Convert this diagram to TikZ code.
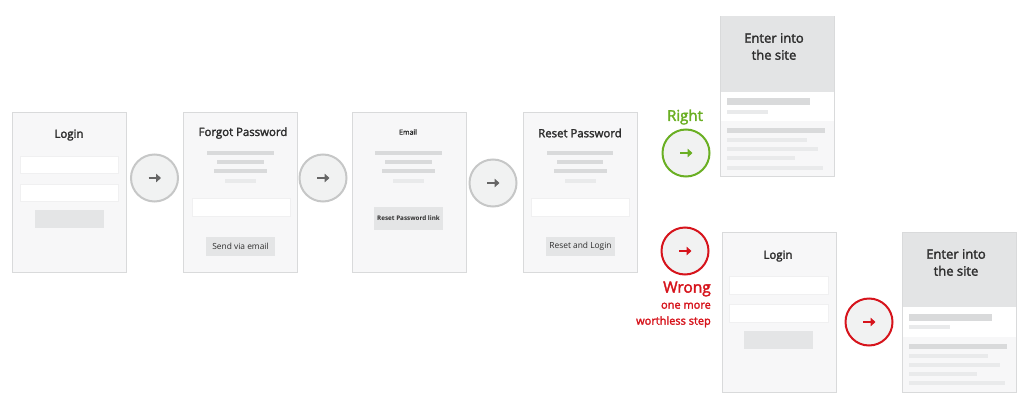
\documentclass[tikz,border=0pt]{standalone}
\usepackage{fontspec}
\setmainfont{Open Sans}
\newfontfamily\semi{Open Sans}[FakeBold=2.2]
\usetikzlibrary{arrows.meta}
\definecolor{panelfill}{HTML}{F7F7F8}
\definecolor{panelline}{HTML}{D9DADB}
\definecolor{btn}{HTML}{E4E5E6}
\definecolor{hdr}{HTML}{E3E4E5}
\definecolor{bar}{HTML}{D9DADB}
\definecolor{barlight}{HTML}{E9EAEB}
\definecolor{txt}{HTML}{2E2E2E}
\definecolor{circfill}{HTML}{F1F2F2}
\definecolor{circgray}{HTML}{C6C7C7}
\definecolor{arrgray}{HTML}{666666}
\definecolor{okgreen}{HTML}{6AAF23}
\definecolor{badred}{HTML}{D6141C}
\tikzset{
  panel/.style={draw=panelline, fill=panelfill, line width=1pt, rectangle, anchor=north west, inner sep=0pt, minimum width=114pt, minimum height=160pt},
  inputbox/.style={fill=white, draw=panelline!40, line width=0.4pt},
  btnbox/.style={fill=btn},
  barbox/.style={fill=bar},
  lightbar/.style={fill=barlight},
  title/.style={font=\semi\fontsize{11.4}{13}\selectfont, text=txt, inner sep=0pt},
  btntext/.style={font=\fontsize{8.4}{9}\selectfont, text=txt, inner sep=0pt},
  stepcirc/.style={circle, minimum size=47pt, inner sep=0pt, draw=circgray, line width=2pt, fill=circfill},
  arr/.style={-{Triangle[length=5pt,width=8.5pt]}, line width=2.8pt},
}
\begin{document}
\begin{tikzpicture}[x=1pt,y=-1pt]
\useasboundingbox (0,0) rectangle (1024,412);

% ---- Panel 1: Login
\node[panel] (p1) at (12,112) {};
\node[title] (p1t) at (69,135) {Login};
\fill[inputbox] (20,156) rectangle (118,173);
\fill[inputbox] (20,184) rectangle (118,201);
\fill[btnbox] (35,210) rectangle (104,228);

% circle 1
\node[stepcirc] (c1) at (154.5,178) {};
\draw[arr, arrgray] ([xshift=-6pt]c1.center) -- ([xshift=6.5pt]c1.center);

% ---- Panel 2: Forgot Password
\node[panel] (p2) at (183,112) {};
\node[title] (p2t) at (243,133) {Forgot Password};
\fill[barbox] (207,151) rectangle (274,155);
\fill[barbox] (217,160) rectangle (264,164);
\fill[barbox] (214,169) rectangle (267,173);
\fill[lightbar] (225,179) rectangle (256,183);
\fill[inputbox] (192,198) rectangle (290,216);
\fill[btnbox] (206,237) rectangle (275,256);
\node[btntext] (b2) at (240.5,246.5) {Send via email};

% circle 2
\node[stepcirc] (c2) at (323,178) {};
\draw[arr, arrgray] ([xshift=-6pt]c2.center) -- ([xshift=6.5pt]c2.center);

% ---- Panel 3: Email
\node[panel] (p3) at (352,112) {};
\node[btntext, font=\semi\fontsize{7}{8}\selectfont] (p3t) at (408,132) {Email};
\fill[barbox] (375,151) rectangle (442,155);
\fill[barbox] (385,160) rectangle (432,164);
\fill[barbox] (382,169) rectangle (435,173);
\fill[lightbar] (393,179) rectangle (424,183);
\fill[btnbox] (374,207) rectangle (443,230);
\node[btntext, font=\fontsize{6.3}{7}\selectfont\bfseries] (b3) at (408.5,218.5) {Reset Password link};

% circle 3
\node[stepcirc] (c3) at (493,183) {};
\draw[arr, arrgray] ([xshift=-6pt]c3.center) -- ([xshift=6.5pt]c3.center);

% ---- Panel 4: Reset Password
\node[panel] (p4) at (523,112) {};
\node[title] (p4t) at (580,133) {Reset Password};
\fill[barbox] (547,151) rectangle (613,155);
\fill[barbox] (557,160) rectangle (603,164);
\fill[barbox] (554,169) rectangle (607,173);
\fill[lightbar] (565,179) rectangle (596,183);
\fill[inputbox] (531,198) rectangle (629,216);
\fill[btnbox] (546,237) rectangle (615,256);
\node[btntext] (b4) at (580.5,246.5) {Reset and Login};

% ---- Right path
\node[font=\semi\fontsize{15}{17}\selectfont, text=okgreen, inner sep=0pt] (right) at (685,117) {Right};
\node[stepcirc, draw=okgreen] (cg) at (686,153) {};
\draw[arr, okgreen] ([xshift=-6pt]cg.center) -- ([xshift=6.5pt]cg.center);

\node[panel] (p5) at (720,16) {};
\fill[hdr] (720.5,16.5) rectangle (833.5,92);
\fill[white] (720.5,92) rectangle (833.5,121);
\node[title, font=\semi\fontsize{13}{17}\selectfont, align=center] (p5t) at (774,46.5) {Enter into\\the site};
\fill[barbox] (727,98) rectangle (810,105);
\fill[lightbar] (727,110) rectangle (768,114);
\fill[barbox] (727,128) rectangle (825,133);
\fill[lightbar] (727,138) rectangle (807,142);
\fill[lightbar] (727,147) rectangle (818,151);
\fill[lightbar] (727,156) rectangle (795,160);
\fill[lightbar] (727,166) rectangle (823,170);

% ---- Wrong path
\node[stepcirc, draw=badred] (cr) at (685,251) {};
\draw[arr, badred] ([xshift=-6pt]cr.center) -- ([xshift=6.5pt]cr.center);
\node[font=\semi\fontsize{15.5}{17}\selectfont, text=badred, inner sep=0pt, anchor=east] (wrong) at (711,289) {Wrong};
\node[font=\semi\fontsize{11}{16}\selectfont, text=badred, inner sep=0pt, anchor=east, align=right] (wrongsub) at (711,315) {one more\\worthless step};

\node[panel] (p6) at (722,232) {};
\node[title] (p6t) at (778,256) {Login};
\fill[inputbox] (729,276) rectangle (828,294);
\fill[inputbox] (729,304) rectangle (828,322);
\fill[btnbox] (744,331) rectangle (813,349);

\node[stepcirc, draw=badred] (cr2) at (869,322) {};
\draw[arr, badred] ([xshift=-6pt]cr2.center) -- ([xshift=6.5pt]cr2.center);

\node[panel] (p7) at (902,232) {};
\fill[hdr] (902.5,232.5) rectangle (1015.5,307);
\fill[white] (902.5,307) rectangle (1015.5,337);
\node[title, font=\semi\fontsize{13}{17}\selectfont, align=center] (p7t) at (956,262.5) {Enter into\\the site};
\fill[barbox] (909,314) rectangle (992,321);
\fill[lightbar] (909,325) rectangle (950,329);
\fill[barbox] (909,344) rectangle (1007,349);
\fill[lightbar] (909,354) rectangle (988,358);
\fill[lightbar] (909,363) rectangle (1000,367);
\fill[lightbar] (909,372) rectangle (977,376);
\fill[lightbar] (909,381) rectangle (1005,385);
\end{tikzpicture}
\end{document}
